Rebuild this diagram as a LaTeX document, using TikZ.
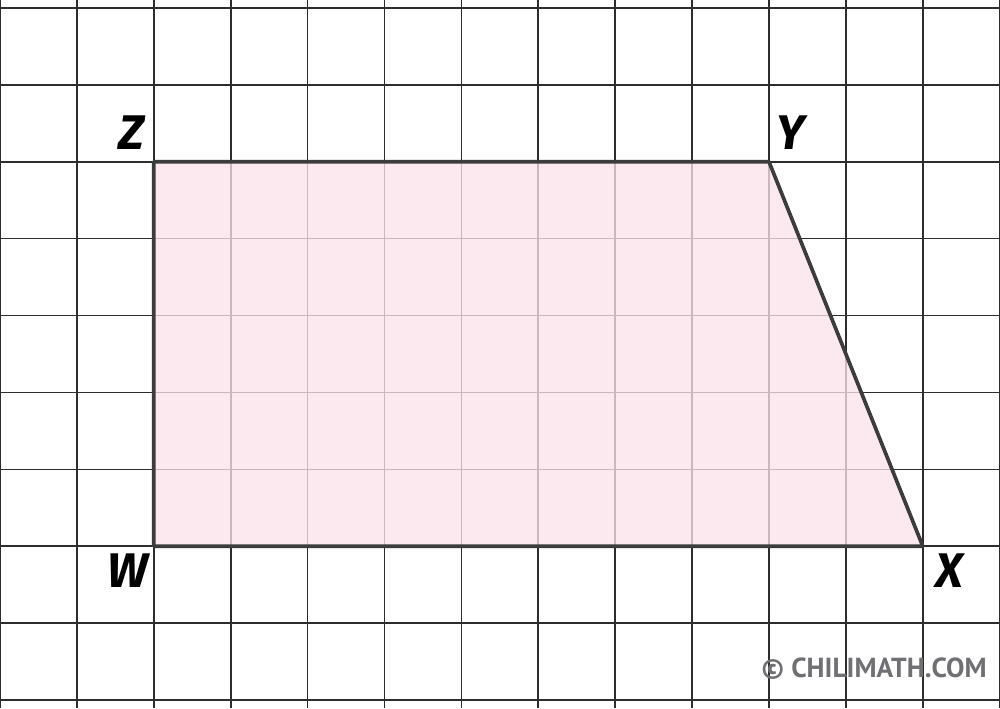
\documentclass[tikz,border=0pt]{standalone}
\usepackage{fontspec}
\newfontfamily\labfont{Fira Sans}
\newfontfamily\wmfont{PT Sans}
\definecolor{gridc}{RGB}{45,45,45}
\definecolor{fillc}{RGB}{251,227,235}
\definecolor{edgec}{RGB}{60,60,60}
\definecolor{wmc}{RGB}{112,112,116}
\tikzset{
  gridline/.style={draw=gridc, line width=0.6pt},
  shapefill/.style={fill=fillc, fill opacity=0.76},
  edge/.style={draw=edgec, line width=1.35pt, line join=round},
  vlabel/.style={font=\labfont\bfseries\itshape\fontsize{18}{18}\selectfont, text=black, inner sep=0pt},
  wm/.style={font=\wmfont\bfseries\fontsize{10.2}{10}\selectfont, text=wmc, inner sep=0pt}
}
\begin{document}
\begin{tikzpicture}
\useasboundingbox (0,0) rectangle (13.004,9.207);
\fill[white] (0,0) rectangle (13.004,9.207);
% grid
\foreach \i in {0,...,13} { \draw[gridline] (\i,0) -- (\i,9.207); }
\foreach \j in {0,...,9} { \draw[gridline] (0,0.104+\j) -- (13.004,0.104+\j); }
% vertices
\coordinate (W) at (2,2.104);
\coordinate (X) at (12,2.104);
\coordinate (Y) at (10,7.104);
\coordinate (Z) at (2,7.104);
\fill[shapefill] (W) -- (X) -- (Y) -- (Z) -- cycle;
\draw[edge] (W) -- (X) -- (Y) -- (Z) -- cycle;
% labels
\node[vlabel] (lZ) at (1.713,7.477) {Z};
\node[vlabel] (lY) at (10.28,7.483) {Y};
\node[vlabel] (lW) at (1.665,1.782) {W};
\node[vlabel] (lX) at (12.34,1.782) {X};
\node[wm] (wm) at (11.365,0.507) {© CHILIMATH.COM};
\end{tikzpicture}
\end{document}
